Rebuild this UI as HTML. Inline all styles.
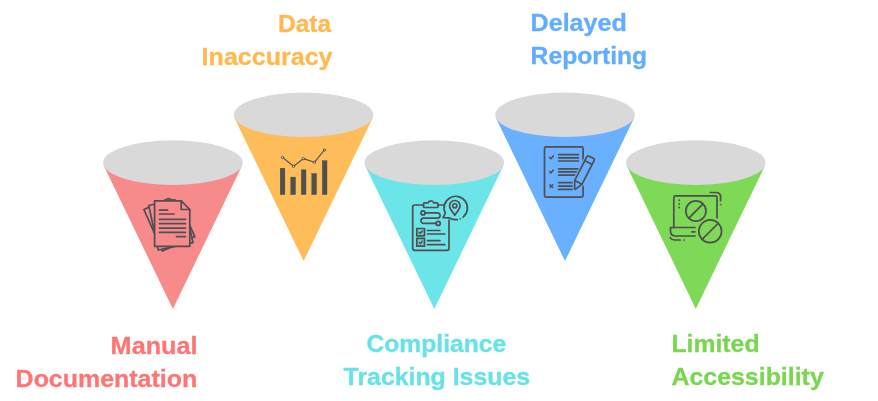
<!DOCTYPE html>
<html lang="en">
<head>
<meta charset="utf-8">
<title>Challenges</title>
<style>
html,body{margin:0;padding:0;background:#ffffff;}
body{width:878px;height:401px;overflow:hidden;}
svg{display:block;will-change:transform;}
text{font-family:"Liberation Sans",sans-serif;font-weight:700;font-size:24px;stroke-width:0.3px;stroke-linejoin:round;}
.ic{fill:none;stroke:#4f4e52;stroke-width:1.7;stroke-linecap:round;stroke-linejoin:round;}
</style>
</head>
<body>
<svg width="878" height="401" viewBox="0 0 878 401">
<rect width="878" height="401" fill="#ffffff"/>

<path d="M103.92 166.05 L172.90 309.00 L241.88 166.05 Z" fill="#F78A8A"/>
<ellipse cx="172.9" cy="162.65" rx="69.8" ry="22.3" fill="#d9d9d9"/>
<path d="M234.62 118.15 L303.60 261.10 L372.58 118.15 Z" fill="#FFBD59"/>
<ellipse cx="303.6" cy="114.75" rx="69.8" ry="22.3" fill="#d9d9d9"/>
<path d="M365.32 166.05 L434.30 309.00 L503.28 166.05 Z" fill="#6CE5E8"/>
<ellipse cx="434.3" cy="162.65" rx="69.8" ry="22.3" fill="#d9d9d9"/>
<path d="M496.02 118.15 L565.00 261.10 L633.98 118.15 Z" fill="#69B1FF"/>
<ellipse cx="565.0" cy="114.75" rx="69.8" ry="22.3" fill="#d9d9d9"/>
<path d="M626.82 166.05 L695.80 309.00 L764.78 166.05 Z" fill="#7ED957"/>
<ellipse cx="695.8" cy="162.65" rx="69.8" ry="22.3" fill="#d9d9d9"/>
<text x="110.63" y="353.85" textLength="86.87" lengthAdjust="spacingAndGlyphs" fill="#FF7575" stroke="#FF7575">Manual</text>
<text x="15.62" y="386.90" textLength="181.62" lengthAdjust="spacingAndGlyphs" fill="#FF7575" stroke="#FF7575">Documentation</text>
<text x="277.98" y="31.80" textLength="53.05" lengthAdjust="spacingAndGlyphs" fill="#FFB94F" stroke="#FFB94F">Data</text>
<text x="201.64" y="65.00" textLength="130.93" lengthAdjust="spacingAndGlyphs" fill="#FFB94F" stroke="#FFB94F">Inaccuracy</text>
<text x="366.56" y="352.00" textLength="139.58" lengthAdjust="spacingAndGlyphs" fill="#68E2E7" stroke="#68E2E7">Compliance</text>
<text x="343.58" y="384.90" textLength="186.49" lengthAdjust="spacingAndGlyphs" fill="#68E2E7" stroke="#68E2E7">Tracking Issues</text>
<text x="530.63" y="30.90" textLength="96.10" lengthAdjust="spacingAndGlyphs" fill="#62ADFF" stroke="#62ADFF">Delayed</text>
<text x="530.63" y="63.90" textLength="116.57" lengthAdjust="spacingAndGlyphs" fill="#62ADFF" stroke="#62ADFF">Reporting</text>
<text x="671.50" y="351.90" textLength="88.00" lengthAdjust="spacingAndGlyphs" fill="#79D650" stroke="#79D650">Limited</text>
<text x="671.51" y="384.90" textLength="152.23" lengthAdjust="spacingAndGlyphs" fill="#79D650" stroke="#79D650">Accessibility</text>
<!-- icon 1: documents -->
<g class="ic">
  <g transform="translate(0.2 0.5) rotate(-24 168.6 230.3)"><path d="M154.5 200.7 H181.3 L190 209.4 V246.2 H154.5 Z" fill="#F78A8A"/></g>
  <g transform="translate(0.1 1.2) rotate(-12 168.6 230.3)"><path d="M154.5 200.7 H181.3 L190 209.4 V246.2 H154.5 Z" fill="#F78A8A"/></g>
  <path d="M154.6 200.9 H181.2 L189.8 209.5 V246.3 H154.6 Z" fill="#F78A8A"/>
  <path d="M181.2 200.9 V209.5 H189.8"/>
  <path d="M159.5 210.2 H167.6 M159.5 214 H174.1 M159.5 219.3 H185.4 M159.5 223.7 H185.4 M159.5 228.1 H185.4 M159.5 232.3 H185.4 M176.5 236.6 H185.4"/>
</g>
<!-- icon 2: bar chart -->
<g fill="#505050" stroke="#474a52" stroke-width="0.4">
  <rect x="280.2" y="168.2" width="4.7" height="26.4"/>
  <rect x="290.8" y="177.1" width="4.7" height="17.5"/>
  <rect x="301.3" y="169.8" width="4.7" height="24.8"/>
  <rect x="311.8" y="173.5" width="4.7" height="21.1"/>
  <rect x="322.3" y="160.7" width="4.7" height="33.9"/>
</g>
<g class="ic" style="stroke-width:1.15">
  <path d="M282.5 157.4 L293.5 166.3 L303.4 158.6 L314.4 162.3 L324.4 150"/>
  <g fill="#e0e0e0" style="stroke-width:1"><circle cx="282.5" cy="157.4" r="1.15"/><circle cx="293.5" cy="166.3" r="1.15"/><circle cx="303.4" cy="158.6" r="1.15"/><circle cx="314.4" cy="162.3" r="1.15"/><circle cx="324.4" cy="150" r="1.15"/></g>
</g>
<!-- icon 3: clipboard with location bubble -->
<g class="ic">
  <path d="M423.5 205 H414.7 a2 2 0 0 0 -2 2 V248.3 a2 2 0 0 0 2 2 H447 a2 2 0 0 0 2 -2 V220"/>
  <path d="M437.9 205 H444.2"/>
  <path d="M424.5 202.9 H428 a3 2.6 0 0 1 5.8 0 H437 a1 1 0 0 1 1 1 V206.5 a1 1 0 0 1 -1 1 H424.5 a1 1 0 0 1 -1 -1 V203.9 a1 1 0 0 1 1 -1 Z"/>
  <circle cx="423" cy="212.9" r="2"/>
  <path d="M425 212.9 H437.5 a2.6 2.6 0 0 1 0 5.2 H423.6 a2.65 2.65 0 0 0 0 5.3 H436.2"/>
  <circle cx="438.2" cy="223.4" r="2"/>
  <rect x="416.8" y="228.5" width="7.7" height="7.3" fill="#62d3d6"/>
  <rect x="416.8" y="238.3" width="7.7" height="7.9" fill="#62d3d6"/>
  <path d="M419.1 232.2 L420.3 233.5 L422.4 231 M419.1 242.4 L420.3 243.7 L422.4 241.2" style="stroke-width:1.4"/>
  <path d="M427.5 230.5 H439.9 M427.5 234 H444.9 M427.5 240.7 H439.9 M427.5 244.7 H444.9"/>
  <path d="M463.11 217.09 A11.7 11.7 0 1 0 445.33 213.31 L443 217.6 L449.55 217.92 A11.7 11.7 0 0 0 457.38 219.59"/>
  <path d="M460.32 218.77 h0.01"/>
  <path d="M454.8 215.2 C452.6 211.8 449.6 209 449.6 205.7 A5.2 5.2 0 0 1 460 205.7 C460 209 457 211.8 454.8 215.2 Z"/>
  <circle cx="454.8" cy="205.8" r="2.05"/>
</g>
<!-- icon 4: checklist with pencil -->
<g class="ic">
  <rect x="544.5" y="146.9" width="38.6" height="50.2" rx="1.6" ry="1.6"/>
  <path d="M549.6 157.4 L550.9 158.8 L553.3 155.9 M549.6 171.5 L550.9 172.9 L553.3 170 M549.9 184.7 L552.7 187.5 M552.7 184.7 L549.9 187.5" style="stroke-width:1.5"/>
  <path d="M558.7 154.7 H578.4 M558.7 157.8 H578.4 M558.7 161 H578.4 M558.7 168.9 H578.4 M558.7 171.9 H577.4 M558.7 175.2 H575.9 M558.7 182.7 H572.4 M558.7 186.1 H572.4 M558.7 189.4 H572.4"/>
  <g transform="translate(574.6 189.8) rotate(-63)">
    <path d="M0.7 -0.35 L8.4 -4.1 H34.800000000000004 a1.8 1.8 0 0 1 1.8 1.8 V2.3 a1.8 1.8 0 0 1 -1.8 1.8 H8.4 L0.7 0.35 Z" fill="#69B1FF" stroke="#69B1FF" stroke-width="4"/>
    <path d="M0.7 -0.35 L8.4 -4.1 H34.800000000000004 a1.8 1.8 0 0 1 1.8 1.8 V2.3 a1.8 1.8 0 0 1 -1.8 1.8 H8.4 L0.7 0.35 Z" fill="#69B1FF"/>
    <path d="M8.4 -4.1 V4.1 M30.6 -4.1 V4.1"/>
  </g>
</g>
<!-- icon 5: laptop with prohibited signs -->
<g class="ic">
  <path d="M673.8 227.4 V197.4 a1.6 1.6 0 0 1 1.6 -1.6 H715.4 a1.6 1.6 0 0 1 1.6 1.6 V217.8"/>
  <path d="M695 227.5 H670.5 V231.6 a4.4 4.4 0 0 0 4.4 4.4 H695"/>
  <path d="M691.9 231.8 H695"/>
  <path d="M670.2 237.6 C671 239 672.5 239.9 674.6 240 H680.2 M684 240 h0.01"/>
  <path d="M710.3 192.5 H716.5 a4.1 4.1 0 0 1 4.1 4.1 V200.7 M720.6 204.5 v0.01"/>
  <path d="M679.2 200.3 v0.01 M679.2 203.9 v0.01 M679.2 207.5 v0.01" style="stroke-width:1.9"/>
  <circle cx="695.9" cy="211" r="10.1" fill="#7ED957"/>
  <path d="M688.8 218.1 L703 203.9"/>
  <circle cx="710.2" cy="231.3" r="11.4" fill="#7ED957"/>
  <path d="M702.15 239.35 L718.25 223.25"/>
</g>

</svg>
</body>
</html>
